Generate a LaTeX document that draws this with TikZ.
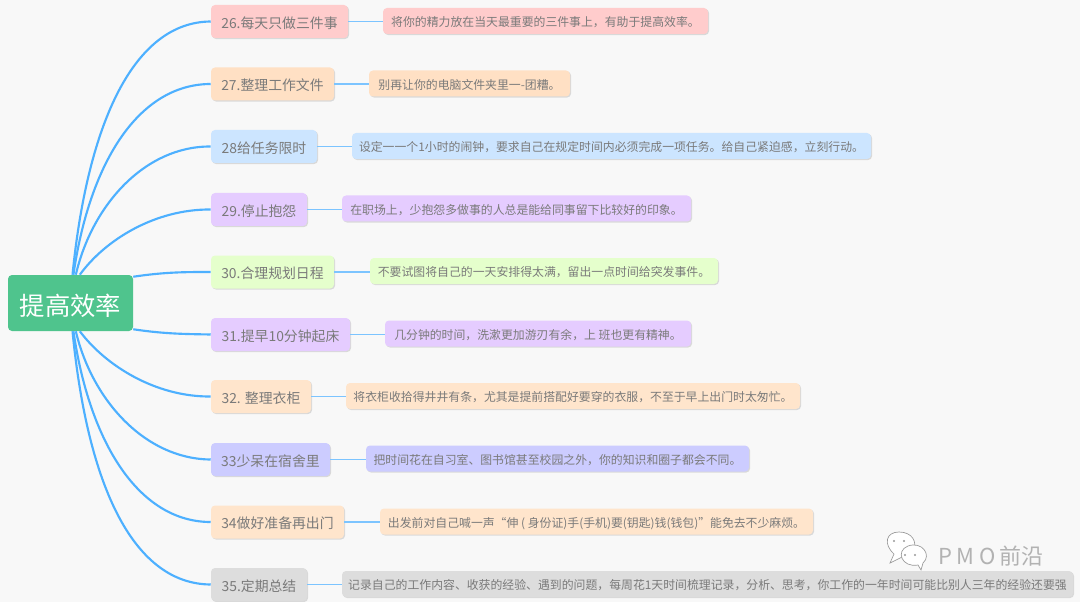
\documentclass[tikz,border=0pt]{standalone}
\usepackage{fontspec}
\setmainfont{Noto Sans CJK SC}
\usetikzlibrary{shadows}
\definecolor{bgc}{HTML}{F8F8F8}
\definecolor{rootc}{HTML}{4FC48D}
\definecolor{mainln}{HTML}{4DB0FF}
\definecolor{subln}{HTML}{7CC4FF}
\definecolor{txt}{HTML}{7A7A7A}
\definecolor{cred}{HTML}{FFCCCC}
\definecolor{corg}{HTML}{FFE0C4}
\definecolor{cblu}{HTML}{CCE5FF}
\definecolor{cpur}{HTML}{E5CCFF}
\definecolor{cgrn}{HTML}{E5FFCC}
\definecolor{clor}{HTML}{FFE5CC}
\definecolor{cind}{HTML}{CCCCFF}
\definecolor{cgry}{HTML}{DDDDDD}
\tikzset{
  x=0.75pt,y=-0.75pt,
  wh/.style 2 args={minimum width=#1*0.75pt,minimum height=#2*0.75pt},
  boxbase/.style={rounded corners=3pt,inner sep=0pt,text=txt,
    drop shadow={shadow xshift=0.8pt,shadow yshift=-0.8pt,opacity=.12,fill=black}},
  topic/.style={boxbase,text height=10.4pt,text depth=0pt,font=\fontsize{10.4pt}{13pt}\selectfont},
  detail/.style={boxbase,text height=8.8pt,text depth=0pt,font=\fontsize{8.9pt}{11pt}\selectfont},
  rootbox/.style={rounded corners=3pt,inner sep=0pt,fill=rootc,text=white,text height=19pt,text depth=0pt,font=\fontsize{19pt}{23pt}\selectfont},
  mainlink/.style={draw=mainln,line width=1.6pt},
  sublink/.style={draw=subln,line width=1.1pt},
}
\begin{document}
\begin{tikzpicture}
\useasboundingbox (0,0) rectangle (1080,602);
\fill[bgc] (0,0) rectangle (1080,602);
% topics
\node[topic,fill=cred,wh={137}{33}] (t26) at (279.5,21.5) {26.每天只做三件事};
\node[topic,fill=corg,wh={123}{33}] (t27) at (272.5,84) {27.整理工作文件};
\node[topic,fill=cblu,wh={106}{33}] (t28) at (264,146.5) {28给任务限时};
\node[topic,fill=cpur,wh={96}{33}] (t29) at (259,209.5) {29.停止抱怨};
\node[topic,fill=cgrn,wh={123}{33}] (t30) at (272.5,272) {30.合理规划日程};
\node[topic,fill=cpur,wh={139}{33}] (t31) at (280.5,334.5) {31.提早10分钟起床};
\node[topic,fill=clor,wh={100}{33}] (t32) at (261,396.5) {32. 整理衣柜};
\node[topic,fill=cind,wh={119}{33}] (t33) at (270.5,459.5) {33少呆在宿舍里};
\node[topic,fill=clor,wh={133}{33}] (t34) at (277.5,522) {34做好准备再出门};
\node[topic,fill=cgry,wh={96}{33}] (t35) at (259,584.5) {35.定期总结};
% details
\node[detail,fill=cred,wh={325}{26}] (d26) at (545.5,21) {将你的精力放在当天最重要的三件事上，有助于提高效率。};
\node[detail,fill=corg,wh={201}{26}] (d27) at (469.5,83.5) {别再让你的电脑文件夹里一-团糟。};
\node[detail,fill=cblu,wh={519}{26}] (d28) at (611.5,146) {设定一一个1小时的闹钟，要求自己在规定时间内必须完成一项任务。给自己紧迫感，立刻行动。};
\node[detail,fill=cpur,wh={349}{26}] (d29) at (516.5,208.5) {在职场上，少抱怨多做事的人总是能给同事留下比较好的印象。};
\node[detail,fill=cgrn,wh={348}{26}] (d30) at (544,271) {不要试图将自己的一天安排得太满，留出一点时间给突发事件。};
\node[detail,fill=cpur,wh={306}{26}] (d31) at (538,333.5) {几分钟的时间，洗漱更加游刃有余，上 班也更有精神。};
\node[detail,fill=clor,wh={454}{26}] (d32) at (573,396) {将衣柜收拾得井井有条，尤其是提前搭配好要穿的衣服，不至于早上出门时太匆忙。};
\node[detail,fill=cind,wh={383}{26}] (d33) at (557.5,458.5) {把时间花在自习室、图书馆甚至校园之外，你的知识和圈子都会不同。};
\node[detail,fill=clor,wh={433}{26}] (d34) at (596.5,521.5) {出发前对自己喊一声“伸 ( 身份证)手(手机)要(钥匙)钱(钱包)”能免去不少麻烦。};
\node[detail,fill=cgry,wh={731}{26}] (d35) at (707.5,584) {记录自己的工作内容、收获的经验、遇到的问题，每周花1天时间梳理记录，分析、思考，你工作的一年时间可能比别人三年的经验还要强};
% root
\node[rootbox,wh={125}{56}] (root) at (70.5,303) {提高效率};
% main links
\draw[mainlink] ([xshift=1.5pt]root.north) .. controls (88,120) and (135,22) .. (t26.west);
\draw[mainlink] ([xshift=2.2pt]root.north) .. controls (90,160) and (140,84) .. (t27.west);
\draw[mainlink] ([xshift=4pt]root.north) .. controls (92,205) and (145,146) .. (t28.west);
\draw[mainlink] ([xshift=7pt]root.north) .. controls (105,240) and (155,209) .. (t29.west);
\draw[mainlink] ([yshift=-1.5pt]root.north east) .. controls (165,272) and (185,272) .. (t30.west);
\draw[mainlink] ([yshift=1.5pt]root.south east) .. controls (165,334) and (185,334) .. (t31.west);
\draw[mainlink] ([xshift=7pt]root.south) .. controls (105,365) and (155,397) .. (t32.west);
\draw[mainlink] ([xshift=4pt]root.south) .. controls (92,400) and (145,459) .. (t33.west);
\draw[mainlink] ([xshift=2.2pt]root.south) .. controls (90,445) and (140,522) .. (t34.west);
\draw[mainlink] ([xshift=1.5pt]root.south) .. controls (88,490) and (135,584) .. (t35.west);
% sub links
\foreach \n in {26,...,35} \draw[sublink] (t\n.east) -- (t\n.east -| d\n.west);
% watermark
\begin{scope}[draw=black!40,fill=white,line width=.5pt]
\path[draw,fill] (890,563) -- (894,554) .. controls (883,544) and (886,532) .. (899,532)
  .. controls (912,532) and (918,542) .. (913,551) -- (902,557) -- cycle;
\fill[black!40] (894,541) circle (1.2) (904,541) circle (1.2);
\path[draw,fill] (921,570) -- (918,565) .. controls (902,568) and (895,551) .. (908,546)
  .. controls (922,541) and (932,555) .. (923,563) -- cycle;
\fill[black!40] (905,555) circle (1.1) (915,555) circle (1.1);
\end{scope}
\node[inner sep=0pt,anchor=west,text=black!30,font=\fontsize{16.5pt}{19pt}\selectfont] (wm) at (938,556) {P\kern3.5pt M\kern3.5pt O\kern3pt 前沿};
\end{tikzpicture}
\end{document}
